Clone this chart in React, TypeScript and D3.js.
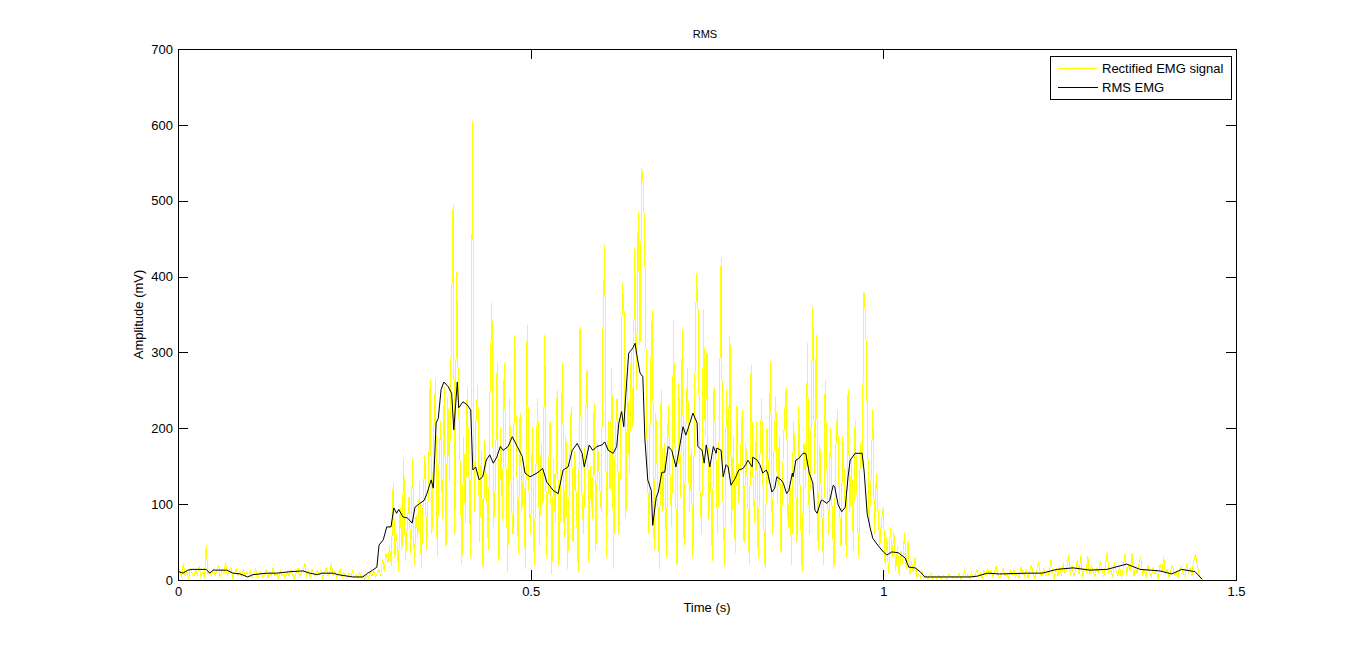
import { useEffect, useRef } from "react";
import * as d3 from "d3";

// rectified EMG, one sample every 2.5 ms starting at t = 0
const emgStep = 0.0025;
const emgValues: number[] = [
  8, 14, 3, 22, 6, 11, 2, 15, 9, 4, 13, 7, 18, 5, 10, 3, 45, 8, 12, 4,
  16, 6, 11, 20, 3, 14, 8, 24, 5, 12, 17, 2, 9, 15, 6, 11, 4, 13, 7, 10,
  5, 12, 3, 9, 14, 2, 8, 11, 4, 7, 13, 3, 10, 6, 17, 5, 9, 2, 12, 6,
  8, 3, 11, 5, 14, 7, 2, 10, 16, 4, 9, 13, 22, 6, 11, 3, 15, 8, 5, 12,
  7, 13, 4, 10, 16, 6, 9, 22, 5, 12, 3, 8, 14, 4, 10, 6, 2, 9, 5, 11,
  4, 7, 2, 9, 3, 6, 1, 8, 3, 10, 5, 12, 4, 9, 14, 6, 28, 10, 36, 22,
  45, 18, 128, 30, 62, 12, 95, 40, 160, 25, 70, 110, 35, 160, 20, 85, 55, 130, 15, 100,
  165, 40, 120, 264, 60, 190, 265, 30, 150, 210, 80, 255, 45, 240, 130, 325, 494, 60, 406, 250,
  150, 20, 189, 75, 255, 140, 30, 605, 90, 210, 257, 50, 170, 15, 185, 120, 40, 260, 365, 70,
  130, 286, 25, 200, 80, 286, 150, 10, 240, 110, 60, 323, 170, 35, 220, 90, 150, 15, 336, 120,
  60, 200, 20, 150, 240, 45, 180, 100, 323, 30, 130, 210, 8, 160, 75, 250, 20, 110, 286, 55,
  190, 15, 140, 230, 50, 170, 95, 10, 334, 120, 60, 200, 277, 25, 150, 80, 233, 40, 180, 130,
  90, 330, 441, 30, 210, 120, 280, 15, 190, 240, 60, 170, 391, 353, 80, 260, 140, 300, 200, 437,
  250, 485, 310, 543, 520, 391, 180, 60, 270, 356, 40, 220, 120, 15, 250, 90, 180, 30, 230, 140,
  70, 343, 150, 20, 260, 110, 330, 45, 200, 280, 90, 170, 30, 240, 404, 352, 120, 60, 356, 190,
  299, 80, 150, 25, 255, 170, 60, 210, 424, 110, 20, 250, 140, 321, 70, 190, 35, 230, 100, 160,
  224, 50, 180, 120, 20, 283, 140, 75, 210, 30, 160, 240, 90, 15, 200, 130, 287, 60, 170, 241,
  100, 190, 35, 150, 220, 255, 70, 130, 20, 210, 160, 50, 230, 90, 10, 180, 120, 312, 60, 200,
  360, 140, 323, 40, 180, 100, 20, 264, 150, 60, 200, 85, 15, 170, 224, 110, 45, 190, 130, 30,
  250, 90, 160, 40, 210, 120, 30, 180, 150, 380, 343, 200, 70, 130, 224, 60, 140, 92, 45, 80,
  96, 20, 55, 8, 70, 30, 63, 12, 45, 5, 38, 22, 62, 15, 50, 6, 25, 10, 30, 4,
  8, 3, 12, 2, 6, 1, 4, 9, 2, 5, 1, 7, 3, 2, 6, 4, 1, 8, 3, 5,
  2, 6, 3, 9, 1, 5, 11, 4, 7, 2, 10, 3, 6, 14, 5, 9, 2, 12, 4, 16,
  7, 13, 4, 10, 18, 6, 3, 11, 15, 5, 9, 2, 12, 7, 14, 4, 8, 3, 17, 10,
  6, 14, 3, 11, 20, 8, 2, 13, 24, 9, 5, 16, 4, 12, 7, 28, 10, 3, 15, 6,
  18, 5, 22, 9, 14, 33, 7, 19, 4, 12, 26, 8, 32, 3, 15, 10, 31, 6, 20, 11,
  5, 17, 8, 25, 13, 4, 20, 37, 9, 15, 3, 24, 11, 6, 18, 2, 14, 35, 7, 21,
  12, 35, 4, 16, 9, 22, 30, 6, 14, 3, 19, 10, 5, 17, 8, 13, 2, 21, 11, 30,
  7, 15, 4, 12, 20, 6, 10, 3, 14, 18, 8, 5, 21, 9, 16, 6, 25, 34, 19, 8,
  2,
];

// RMS envelope (time in s, amplitude in mV)
const rmsTimes: number[] = [
  0.001, 0.007, 0.014, 0.02, 0.04, 0.045, 0.05, 0.069, 0.078, 0.088, 0.099, 0.106, 0.126, 0.14,
  0.159, 0.177, 0.187, 0.198, 0.204, 0.22, 0.227, 0.248, 0.262, 0.269, 0.276, 0.282, 0.285, 0.291,
  0.296, 0.302, 0.306, 0.31, 0.313, 0.319, 0.325, 0.328, 0.332, 0.336, 0.343, 0.349, 0.353, 0.359,
  0.362, 0.366, 0.369, 0.373, 0.377, 0.383, 0.388, 0.391, 0.396, 0.398, 0.404, 0.41, 0.415, 0.418,
  0.422, 0.427, 0.432, 0.437, 0.442, 0.447, 0.452, 0.457, 0.461, 0.468, 0.474, 0.481, 0.488, 0.492,
  0.499, 0.509, 0.517, 0.523, 0.532, 0.539, 0.546, 0.553, 0.559, 0.566, 0.573, 0.576, 0.583, 0.588,
  0.594, 0.601, 0.605, 0.61, 0.617, 0.622, 0.625, 0.629, 0.632, 0.635, 0.639, 0.645, 0.648, 0.651,
  0.655, 0.659, 0.662, 0.666, 0.671, 0.673, 0.678, 0.681, 0.686, 0.69, 0.695, 0.7, 0.706, 0.712,
  0.716, 0.72, 0.724, 0.73, 0.736, 0.737, 0.743, 0.746, 0.749, 0.754, 0.759, 0.763, 0.764, 0.77,
  0.773, 0.777, 0.78, 0.784, 0.79, 0.795, 0.801, 0.805, 0.808, 0.814, 0.815, 0.821, 0.825, 0.829,
  0.834, 0.836, 0.842, 0.846, 0.849, 0.855, 0.858, 0.863, 0.866, 0.871, 0.872, 0.876, 0.88, 0.886,
  0.89, 0.895, 0.9, 0.903, 0.906, 0.912, 0.914, 0.92, 0.924, 0.929, 0.931, 0.936, 0.941, 0.946,
  0.95, 0.953, 0.96, 0.97, 0.973, 0.977, 0.981, 0.985, 0.992, 1.0, 1.005, 1.012, 1.021, 1.031,
  1.036, 1.045, 1.052, 1.059, 1.076, 1.123, 1.133, 1.147, 1.165, 1.204, 1.225, 1.246, 1.269, 1.293,
  1.317, 1.345, 1.364, 1.392, 1.409, 1.423, 1.442, 1.452,
];
const rmsValues: number[] = [
  11, 9, 13, 14, 14, 9, 13, 13, 9, 8, 4, 7, 9, 9,
  11, 12, 9, 7, 9, 9, 7, 4, 4, 9, 13, 17, 46, 53,
  70, 70, 95, 88, 93, 83, 82, 79, 75, 96, 101, 105, 114, 132,
  121, 207, 213, 251, 261, 255, 246, 198, 261, 227, 235, 231, 224, 145,
  149, 132, 136, 158, 165, 154, 162, 176, 171, 176, 189, 176, 163, 141,
  136, 141, 147, 129, 118, 114, 145, 149, 171, 180, 167, 149, 178, 171,
  176, 178, 182, 171, 167, 176, 207, 222, 202, 246, 299, 306, 312, 294,
  273, 268, 185, 132, 118, 72, 109, 116, 142, 142, 176, 171, 149, 180,
  202, 191, 202, 220, 207, 176, 171, 154, 178, 149, 176, 167, 174, 171,
  136, 152, 149, 125, 134, 145, 147, 152, 158, 149, 162, 158, 152, 141,
  145, 141, 116, 121, 136, 132, 128, 114, 118, 141, 136, 158, 160, 167,
  167, 141, 128, 92, 88, 105, 105, 101, 105, 125, 123, 99, 90, 96,
  136, 158, 167, 167, 141, 88, 70, 55, 46, 37, 33, 37, 36, 29,
  17, 16, 11, 4, 4, 4, 5, 9, 8, 9, 9, 14, 16, 13,
  14, 21, 14, 12, 8, 14, 11, 1,
];

const xTicks = [0, 0.5, 1, 1.5];
const yTicks = [0, 100, 200, 300, 400, 500, 600, 700];
const legendLabels = ["Rectified EMG signal", "RMS EMG"];
const legendColors = ["#ffff00", "#000000"];

const W = 1366;
const H = 652;
const FONT = "'Liberation Sans', Arial, Helvetica, sans-serif";

export default function App() {
  const svgRef = useRef<SVGSVGElement | null>(null);

  useEffect(() => {
    if (!svgRef.current) return;
    const margin = { top: 49, right: 130, bottom: 72, left: 178 };
    const x = d3.scaleLinear().domain([0, 1.5]).range([margin.left, W - margin.right]);
    const y = d3.scaleLinear().domain([0, 700]).range([H - margin.bottom, margin.top]);

    const svg = d3.select(svgRef.current);
    svg.selectAll("*").remove();
    svg.append("rect").attr("width", W).attr("height", H).attr("fill", "#fff");

    const emg = emgValues.map((v, i) => [i * emgStep, v] as [number, number]);
    const rms = rmsTimes.map((t, i) => [t, rmsValues[i]] as [number, number]);
    const line = d3.line<[number, number]>().x(d => x(d[0])).y(d => y(d[1]));

    svg.append("path")
      .attr("d", line(emg))
      .attr("fill", "none")
      .attr("stroke", "#ffff00")
      .attr("stroke-width", 1)
      .attr("shape-rendering", "crispEdges");

    svg.append("path")
      .attr("d", line(rms))
      .attr("fill", "none")
      .attr("stroke", "#000")
      .attr("stroke-width", 1);

    // axes, ticks pointing inwards on all four sides
    const styleAxis = (g: any) => {
      g.select(".domain").remove();
      g.selectAll(".tick line").attr("stroke", "#000").attr("shape-rendering", "crispEdges");
      g.selectAll("text").attr("font-family", FONT).attr("font-size", 13).attr("fill", "#000");
    };
    const fmt = (d: any) => String(d);

    svg.append("g")
      .attr("transform", `translate(0,${y(0)})`)
      .call(d3.axisBottom(x).tickValues(xTicks).tickSize(-10).tickPadding(7).tickFormat(fmt))
      .call(styleAxis);
    svg.append("g")
      .attr("transform", `translate(0,${y(700)})`)
      .call(d3.axisTop(x).tickValues(xTicks).tickSize(-10).tickFormat(() => ""))
      .call(styleAxis);
    svg.append("g")
      .attr("transform", `translate(${x(0)},0)`)
      .call(d3.axisLeft(y).tickValues(yTicks).tickSize(-10).tickPadding(5).tickFormat(fmt))
      .call(styleAxis);
    svg.append("g")
      .attr("transform", `translate(${x(1.5)},0)`)
      .call(d3.axisRight(y).tickValues(yTicks).tickSize(-10).tickFormat(() => ""))
      .call(styleAxis);

    svg.append("rect")
      .attr("x", x(0)).attr("y", y(700))
      .attr("width", x(1.5) - x(0)).attr("height", y(0) - y(700))
      .attr("fill", "none").attr("stroke", "#000")
      .attr("shape-rendering", "crispEdges");

    const cx = (x(0) + x(1.5)) / 2;
    svg.append("text")
      .attr("x", cx - 2).attr("y", 38)
      .attr("text-anchor", "middle")
      .attr("font-family", FONT).attr("font-size", 11)
      .text("RMS");
    svg.append("text")
      .attr("x", cx).attr("y", 612)
      .attr("text-anchor", "middle")
      .attr("font-family", FONT).attr("font-size", 13)
      .text("Time (s)");
    svg.append("text")
      .attr("transform", `translate(143,${(y(0) + y(700)) / 2}) rotate(-90)`)
      .attr("text-anchor", "middle")
      .attr("font-family", FONT).attr("font-size", 13)
      .text("Amplitude (mV)");

    // legend
    const lg = svg.append("g").attr("transform", "translate(1050,56)");
    lg.append("rect")
      .attr("width", 181).attr("height", 43)
      .attr("fill", "#fff").attr("stroke", "#000")
      .attr("shape-rendering", "crispEdges");
    legendLabels.forEach((label, i) => {
      const ly = 12 + i * 19;
      lg.append("line")
        .attr("x1", 8).attr("x2", 48).attr("y1", ly).attr("y2", ly)
        .attr("stroke", legendColors[i])
        .attr("shape-rendering", "crispEdges");
      lg.append("text")
        .attr("x", 52).attr("y", ly + 4.5)
        .attr("font-family", FONT).attr("font-size", 13)
        .text(label);
    });
  }, []);

  return (
    <div style={{ position: "absolute", left: 0, top: 0 }}>
      <svg ref={svgRef} width={W} height={H} style={{ display: "block" }} />
    </div>
  );
}
